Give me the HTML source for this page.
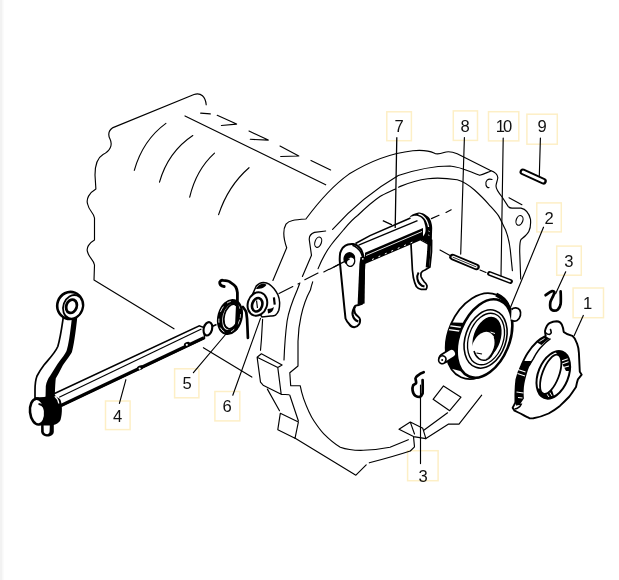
<!DOCTYPE html>
<html><head><meta charset="utf-8"><style>
html,body{margin:0;padding:0;background:#fff;width:619px;height:580px;overflow:hidden}
svg{display:block}
.t{font-family:"Liberation Sans",sans-serif;font-size:16.6px;fill:#111;text-anchor:middle}
.l{fill:none;stroke:#000;stroke-width:1.15;stroke-linecap:round;stroke-linejoin:round}
.m{fill:none;stroke:#000;stroke-width:1.8;stroke-linecap:round;stroke-linejoin:round}
.b{fill:none;stroke:#fdefc6;stroke-width:1.5}
</style></head><body>
<svg style="will-change:transform" width="619" height="580" viewBox="0 0 619 580">
<rect x="0" y="0" width="619" height="580" fill="#fff"/>
<rect x="0" y="0" width="2.5" height="580" fill="#f2f2f2"/>
<rect x="2.5" y="0" width="1" height="580" fill="#f7f7f7"/>

<g>
<rect class="b" x="386.8" y="111.8" width="24.6" height="28.9"/>
<rect class="b" x="453.3" y="110.9" width="24.2" height="29.5"/>
<rect class="b" x="488.5" y="111.7" width="30.3" height="29.2"/>
<rect class="b" x="526.9" y="114.2" width="30.4" height="30.0"/>
<rect class="b" x="536.8" y="202.9" width="24.5" height="29.0"/>
<rect class="b" x="556.7" y="246.1" width="24.6" height="29.1"/>
<rect class="b" x="573.1" y="288.0" width="30.4" height="29.7"/>
<rect class="b" x="174.6" y="368.8" width="24.3" height="29.0"/>
<rect class="b" x="214.9" y="391.5" width="24.9" height="29.4"/>
<rect class="b" x="105.5" y="401.0" width="24.6" height="28.6"/>
<rect class="b" x="407.6" y="450.7" width="30.5" height="30.0"/>
</g>
<!-- ===== transmission housing (left body) ===== -->
<g class="l">
<path d="M206.2,104.8 C205.5,97 201,92 194,94.5 L113,127.6 C108,131 108,135 110,139 C113,145 110,151 103,154.5 C97,158 95,165 95,175 L95.9,189 C89,193 86,199 87.6,204 C89,211 94,213 94.5,218 L94.5,240 C89,243 86,248 87.6,252 C89,258 94,260 94.5,265 L94,280 L174,328.8 M203.4,347.7 L251.8,377.1"/>
<path d="M185,115.9 L325.7,184.8"/>
<path d="M200.7,113.1 L210.3,113.9 M217.2,115.3 L236.6,124.1 L221.4,125.5 M249,131 L268.3,140.1 L250.3,139.3 M280,146 L298.8,156 L280.7,156.5 M311,160.4 L330.6,170"/>
<path d="M165.9,123.4 Q143,140 134.3,170.3 M192.8,135.5 Q168,152 159.5,182.2 M214.5,153.1 Q196,170 189.7,197.2 M249,167.7 Q228,186 218.6,214.6"/>
</g>

<!-- ===== bell housing flange ===== -->
<g class="l">
<!-- outer edge -->
<path d="M272.9,280.5 L286.7,247.8 C284,240 282.5,230 286,224.1 C289,220.5 294,219.8 305.9,219 C320,200 335,184 349,174.1 C370,161 392,153 412.8,150.7 C422,150 430,151 434,153 C437,155 440,154 444,152.5 C448,151 453,152 457.2,153.8 L490,170.2 C495,172 498,175 497.8,178 C497,182 496,184 496,186 C496,189 498,192 502.1,197 L508.1,206.4 C509,207.5 510,208.1 512,208.1 L521,208.1 C525,209 529,213 530.5,219.3 C531,225 530,229 528.8,231.4 C527,235 524,237 521,239.5 C519.5,242 519.7,248 519.7,252 L520.7,279"/>
<path d="M262.6,319.3 L261.4,340 L260.5,350.3"/>
<path d="M509,197.8 L521.9,204.7"/>
<!-- arc 2 (inner lug edge) -->
<path d="M332.6,229.3 C350,210 370,192 398.3,175.5 C415,170 430,166 450,166 C462,167 470,172 479.7,175.3 C483,174.5 487,172.5 490.9,171"/>
<path d="M325.7,231 L314.5,232.4 C310,234 309,237 309.3,240 L311.5,255.3 L302.4,276.4 M299.5,284 L297.2,290 C292,302 288.5,312 287.1,321 C285.5,333 284.5,347 284,359.9"/>
<!-- arc 3 -->
<path d="M318.1,268.6 C322,259 326,251.5 331.4,244.5 C334.5,240 338,236.5 343.4,230 C348,224.5 352,219.5 357.6,215.5 C365,208.5 372,202 380,196.6 C384,194 388,192.5 395.5,189 M398.5,187.2 L400.3,186.4 C420,178 435,176.5 457.2,179.7 C465,182 470,186 474.5,190 C480,195 485,200 488.3,203.8 C492,208 496,212 498.6,215.9 C501,220 503,225 505.5,229.7 C508,236 509.5,243 510.3,250 L512.4,270.7"/>
<path d="M312.7,281.9 C311.8,284.5 311,287.5 310.4,290 C306,298 303,307 301,316.4 C299,325 298.2,333 298,341.2 L298,366 L289.8,372.8 L290.7,385.7 L300.2,385.7 C301,390 302,394 303.6,398.6 C307,408 310,415 314,421 C318,427 320,430 323.8,433.8 C330,440 335,444 340.3,447.2 C348,450 355,450.5 363.1,450.3 C372,450 381,449 390,447.2 L408.3,439.7"/>
<!-- block -->
<path d="M257.1,357.2 L261.4,353.8 L282.1,365 L277.8,367.6 Z M257.1,357.2 L260.5,382.2 L263.1,385.2 L281.2,394.3 L289,394.8 M277.8,367.6 L281.2,394.3"/>
<path d="M267.4,389.1 L279.5,410.7 M289.8,395.2 L298.4,421"/>
<path d="M280.3,413.3 L298.4,421.9 L295,438.3 L277.8,429.7 Z"/>
<path d="M294.8,437.9 L355.9,475.2 L366.2,464.8 M369.3,462.8 C380,460 395,456 410.3,451 L414.5,446.9 L413.5,436.6 L399,429.3 L410.3,422.1 L422.8,428.3 L425.9,438.6 L413.5,436.6 M410.3,422.1 L414.5,434"/>
<path d="M423.8,430.3 L447.6,412.8 M425.9,438.6 L448.6,424.1 L459,424.1 L481.7,395.2"/>
<path d="M443.5,385.9 L461,397.2 L449.7,410.7 L433.1,399.3 Z"/>
<!-- holes -->
<ellipse cx="318.2" cy="242.2" rx="3.2" ry="5.3" transform="rotate(20 318.2 242.2)"/>
<ellipse cx="519.5" cy="220.4" rx="3.3" ry="5" transform="rotate(20 519.5 220.4)"/>
<path d="M492,179.5 C488,178 485,181 486,185 C486.5,187 488,188 489,187.5"/>
</g>

<!-- axis dash-dot lines -->
<g class="l">
<path d="M279,293.4 L292.8,286.6 M298,284 L300,283 M304.8,279.7 L318,273 M323.8,271.9 L329,269.3 M334,267 L348,259.5"/>
<path d="M431.4,218.6 L439,215.3 M446,212.4 L451.2,209.8"/>
<path d="M440,250 L451.4,256.2 M480,270 L486,272.5"/>
</g>

<!-- ===== clutch fork (7) ===== -->
<g>
<!-- tube -->
<path d="M355,242 L412,218.5 L426,229 L420,239 L365,264 Z" fill="#fff" stroke="none"/>
<!-- right arm -->
<path d="M410.9,242.2 L412.4,270 L413.4,277.8 C414.2,281.5 415.2,284.5 416.3,286.5 C417.8,288.5 419.5,289.3 421.1,289.4 L426,289.4 C426.8,288.3 427.2,287 426.9,285.5 C426.5,284 425.5,282.8 424,281.6 C422.8,280 421.7,278.5 421.1,276.8 C420.8,275.5 420.9,274 421.1,272.9 C421.8,271.5 423,270.5 425,270 L429.9,267.1 L431.5,251.6 L431.6,240 L426.4,241.4 L420.2,238.3 Z" fill="#fff" stroke="#000" stroke-width="1.7" stroke-linejoin="round"/>
<path d="M418.6,272.5 C417.4,274.5 417,277 417.4,279 C418,282 419.8,284.5 422,285.8 L424.5,286.5" stroke="#000" stroke-width="2" fill="none"/>
<path d="M429.6,236 L428.8,252 L427.4,267.5" stroke="#000" stroke-width="3.4" fill="none"/>
<!-- cap ring -->
<path d="M409.3,217.4 C411,215 413,213.5 418.6,212.4 C421,212.4 424,213 427.9,216.6 C429.5,218 430.5,219.5 431,221.3 C431.8,224 432.2,226 432.2,228 L431.6,246 L427,243 C425,241.5 423,240 420.2,238.3 C422,237 423,236.5 423.3,236 C425,234 425.6,232 425.6,229.8 C425.5,226 425,225 424.8,224.4 C424,221 423.5,220 422.5,219 C421,217 419.5,216.5 417.8,215.9 C415,215.5 412,216 409.3,217.4 Z" fill="#000"/>
<path d="M418.5,214.2 C422,215 424.5,217 426.5,220.5 C427.8,223 428.3,225 428.6,227" stroke="#fff" stroke-width="1.3" fill="none"/>
<path d="M428.5,231 L429.5,231.5 M428.3,235 L429.3,235.5" stroke="#fff" stroke-width="1"/>
<path d="M355.5,243.5 L370,235.6 L410.5,218" stroke="#000" stroke-width="1.6" fill="none"/>
<path d="M358.6,245.2 L417.5,220.6" stroke="#000" stroke-width="1.3" fill="none"/>
<path d="M365,252.7 L423,228.1 L423,239.2 L365,264 Z" fill="#000"/>
<path d="M366,255.5 L422,231.5" stroke="#fff" stroke-width="0.9"/>
<path d="M372,259.5 L416,240.5" stroke="#fff" stroke-width="1" stroke-dasharray="2 5"/>
<path d="M420.6,240 L430.7,245.4" stroke="#000" stroke-width="1.3" fill="none"/>
<!-- left arm -->
<path d="M339.8,261.3 C339.5,257 340,254.5 340.2,252.9 C341,250.5 342,249 342.8,247.7 C344.5,246 346,245 347.9,244.5 C350,244 351.5,244 353.1,244.1 C355,244.5 356.5,245 357.6,245.8 C359.5,247.5 360.8,249 361.5,250.3 C362.5,252.5 363,254.5 363.4,256.1 L364.3,264.6 L362,303.9 L359.1,304.9 C357.5,305 356,305.3 355.2,305.9 C354.3,306.8 354,307.8 354.2,308.8 C354.3,310.5 354.6,312.3 355.2,313.6 C356,315 357.2,315.8 358.1,316.5 C359.2,317.4 359.8,318.3 360,319.4 C360.2,321 359.9,323 359.1,324.3 C358,326 356.2,327 354.2,327.2 C352.3,327.2 350.6,326 349.4,324.3 C347.6,322.5 346.3,320.5 345.5,318.5 L344.5,308.8 Z" fill="#fff" stroke="#000" stroke-width="2" stroke-linejoin="round"/>
<polygon points="365.2,257 364.6,303.5 359.5,304.8 357.6,304.8 359.4,264 360.5,257" fill="#000"/>
<path d="M355.2,306.8 C353.2,309 352.3,312 352.7,315 C353.3,318 355.5,320.5 358.3,321.6" stroke="#000" stroke-width="2.2" fill="none"/>
<path d="M352.4,245.3 C354.5,246 355.8,246.9 357,247.9 C358.8,249.4 360,250.9 360.8,252.4 C361.6,254 362.2,255.8 362.6,257.4" stroke="#000" stroke-width="1.5" fill="none"/>
<circle cx="362.8" cy="258.8" r="0.9" fill="#fff"/>
<ellipse cx="349.3" cy="258.5" rx="5.8" ry="6.5" transform="rotate(20 349.3 258.5)" fill="#000"/>
<ellipse cx="350.6" cy="261.6" rx="4" ry="4.9" transform="rotate(20 350.6 261.6)" fill="#fff" stroke="#000" stroke-width="1.4"/>
<path d="M329.1,269.5 L349.6,258.9" stroke="#000" stroke-width="1.3" fill="none"/>
<path d="M396.8,137.2 L395.2,228 M382.8,220.7 L392,224.8" stroke="#000" stroke-width="1.3" fill="none"/>
</g>

<!-- ===== lever (4) ===== -->
<g>
<path d="M63.5,316 C62,326 60.5,338 57.8,346.5 C55,353 49,359 44,365 C41,369 39,372 37,376 C35.5,380 35,385 35,390 L35,398 L54,398 L54,394 C54.2,388 54.5,382 55,378 C58,373 60,369 62,365 C67,358 70,354 71.1,351.8 C73,345 74.5,335 76.5,317" fill="#fff" stroke="#000" stroke-width="1.7" stroke-linejoin="round"/>
<path d="M76.5,317 C74.5,335 73,345 71.1,351.8 C70,354 67,358 62,365 C60,369 58,373 55,378 C54.5,382 54.2,388 54,398 L45.5,398 L45.8,386 C46.5,382 48,378.5 50,376 C52.5,372 55,368 57.5,364 C62,358 65,354 66.5,351 C68.5,345 70,335 72,317 Z" fill="#000"/>
<ellipse cx="70.1" cy="305.4" rx="12.8" ry="13.6" transform="rotate(20 70.1 305.4)" fill="#fff" stroke="#000" stroke-width="2.6"/>
<ellipse cx="72.9" cy="306.8" rx="9.6" ry="12" transform="rotate(20 72.9 306.8)" fill="#fff" stroke="#000" stroke-width="1.8"/>
<ellipse cx="71.5" cy="306.3" rx="5.2" ry="6.8" transform="rotate(20 71.5 306.3)" fill="#fff" stroke="#000" stroke-width="2.8"/>
<!-- shaft -->
<path d="M53.5,394 L199.3,325.9 L204,327.5 L204.5,338.3 L61,406 Z" fill="#fff" stroke="#000" stroke-width="1.5"/>
<path d="M59.2,397.3 L201.4,329" fill="none" stroke="#000" stroke-width="1.25"/>
<path d="M61,405.5 L204,337.8" stroke="#000" stroke-width="3.2" fill="none"/>
<ellipse cx="140" cy="367.8" rx="3.2" ry="2.2" transform="rotate(-25 140 367.8)" fill="#000"/>
<circle cx="139.7" cy="368.6" r="1.1" fill="#fff"/>
<ellipse cx="187" cy="344.2" rx="3.2" ry="2.2" transform="rotate(-25 187 344.2)" fill="#000"/>
<circle cx="186.8" cy="344.8" r="1.1" fill="#fff"/>
<!-- boss -->
<path d="M42,397.5 C48,395.5 56,395 60,399 C62.5,403 62.5,414 60.5,420 C58,424.5 53,426 47,425.5 L40,425 C35,423 31,418 30,410 C30,403 35,398 42,397.5 Z" fill="#000"/>
<ellipse cx="37.6" cy="411.6" rx="7.6" ry="13" transform="rotate(-6 37.6 411.6)" fill="#fff" stroke="#000" stroke-width="2.6"/>
<path d="M38.5,403.8 C41,404.2 43,405.5 44.5,408" stroke="#000" stroke-width="1.8" fill="none"/>
<path d="M54.8,396.3 C57,398 58.3,400.5 58.8,403.5" stroke="#fff" stroke-width="1.3" fill="none"/>
<path d="M41.1,423 L41.1,432 C42,435.5 45,436.5 47.5,436.5 C50.5,436.5 53.8,435 53.8,431.5 L53.8,423 Z" fill="#000"/>
<path d="M43.6,425.5 L43.8,432 C44.5,433.5 46,434.2 47.2,434.2 C48.8,434 49.6,432.8 49.6,431 L49.8,425.5 Z" fill="#fff"/>
</g>

<!-- ===== ring, spring (5), bush (6) ===== -->
<g>
<ellipse cx="207.9" cy="328.8" rx="4.2" ry="6.8" transform="rotate(15 207.9 328.8)" fill="#fff" stroke="#000" stroke-width="2.1"/>
<path d="M212,326.5 L216.5,324.5" stroke="#000" stroke-width="1.4"/>
<!-- spring coil -->
<ellipse cx="230" cy="317" rx="10" ry="15.8" transform="rotate(15 230 317)" fill="none" stroke="#000" stroke-width="5.2"/>
<ellipse cx="229.6" cy="317" rx="10.3" ry="15.9" transform="rotate(15 229.6 317)" fill="none" stroke="#fff" stroke-width="0.8" stroke-dasharray="6 5 4 7"/>
<ellipse cx="231.5" cy="316.5" rx="7.3" ry="12.6" transform="rotate(15 231.5 316.5)" fill="none" stroke="#000" stroke-width="1.8"/>
<path d="M224.2,286.5 C221,286 219.5,284 219.7,282.1 C220.5,280.5 222,280 223,280.4 C226,280.5 229,281 230.8,282.6 C233,284 235,285.5 235.8,287 C236.8,289 237.3,291 237.4,292.6 L237.4,304.7 L236.3,329" fill="none" stroke="#000" stroke-width="2.8" stroke-linecap="round"/>
<path d="M242.9,307 C244.5,309 246,311 246.3,312.5 C247,317 247.4,322 247.4,325.7 L247.9,337.9" fill="none" stroke="#000" stroke-width="2.7" stroke-linecap="round"/>
<!-- bush -->
<path d="M256.2,286.1 C258.5,283.5 261,282.4 263.4,282.4 C265.5,282.5 267.5,283 269.1,284.1 C271,285.5 272.5,287 273.9,288.5 C275.5,290.5 277,293 278,295 C279,297.5 279.5,300 279.6,302.2 C279.7,305 279.4,308 278.8,310.3 C278,312.5 277,314 275.5,315.2 C274,316 272,316.2 270.7,316 L262,317 L250,300 Z" fill="#fff" stroke="#000" stroke-width="1.5"/>
<path d="M256,289 C257,286.5 259,284.5 262,283.8 C264,283.5 265.5,283.8 266.5,284.8 C265.5,286.5 263.5,288 261,288.6 C259,289 257.5,289.2 256,289 Z" fill="#000"/>
<path d="M273.9,297.4 L274.7,304.7" stroke="#000" stroke-width="2.2"/>
<path d="M267.5,309 C270,309 272.5,308 273.9,307 C273.5,310.5 271.5,313 268,313.5 Z" fill="#000"/>
<ellipse cx="257.4" cy="304" rx="9.6" ry="12" transform="rotate(18 257.4 304)" fill="#fff" stroke="#000" stroke-width="2"/>
<ellipse cx="257.2" cy="304.8" rx="5" ry="6.9" transform="rotate(18 257.2 304.8)" fill="#fff" stroke="#000" stroke-width="2.6"/>
<path d="M256.5,300.5 L257.5,308" stroke="#000" stroke-width="1.2"/>
</g>

<!-- ===== pins 8, 10, 9 ===== -->
<g stroke-linecap="round">
<path d="M452.5,257 L476.5,267" stroke="#000" stroke-width="6.5"/>
<path d="M453,257.2 L476,266.8" stroke="#fff" stroke-width="3"/>
<path d="M453,257.2 L476,266.8" stroke="#000" stroke-width="0.8"/>
<path d="M489.5,273.5 L510.5,281.5" stroke="#000" stroke-width="4.8"/>
<path d="M490,273.7 L510,281.3" stroke="#fff" stroke-width="1.8"/>
<path d="M522.8,171.8 L543.5,181.3" stroke="#000" stroke-width="6.5"/>
<path d="M523.2,172 L543,181" stroke="#fff" stroke-width="3"/>
</g>

<!-- ===== bearing (2) ===== -->
<defs>
<clipPath id="bA"><ellipse cx="478.9" cy="336.1" rx="30.4" ry="44.9" transform="rotate(23.5 478.9 336.1)"/></clipPath>
<clipPath id="bTop"><polygon points="478,280 520,280 520,312 500,306 478,296"/></clipPath>
</defs>
<g>
<ellipse cx="478.9" cy="336.1" rx="30.4" ry="44.9" transform="rotate(23.5 478.9 336.1)" fill="#fff" stroke="#000" stroke-width="1.8"/>
<g clip-path="url(#bA)">
<polygon points="440,322 470,323 470,368 440,368" fill="#000"/>
<path d="M440,324.5 L470,328.5 M440,328.5 L470,332.5" stroke="#fff" stroke-width="1.4"/>
<path d="M440,364 L470,372" stroke="#000" stroke-width="3"/>
</g>
<ellipse cx="478.9" cy="336.1" rx="30.4" ry="44.9" transform="rotate(23.5 478.9 336.1)" fill="none" stroke="#000" stroke-width="4" clip-path="url(#bTop)"/>
<ellipse cx="484.5" cy="338.5" rx="25" ry="41" transform="rotate(22 484.5 338.5)" fill="#fff" stroke="#000" stroke-width="2.6"/>
<ellipse cx="485.6" cy="339" rx="20.3" ry="30" transform="rotate(19 485.6 339)" fill="none" stroke="#000" stroke-width="1.6"/>
<ellipse cx="486" cy="339" rx="17.3" ry="26.5" transform="rotate(19 486 339)" fill="none" stroke="#000" stroke-width="1.3"/>
<ellipse cx="487" cy="338" rx="13.5" ry="22" transform="rotate(19 487 338)" fill="#000"/>
<ellipse cx="483" cy="346.5" rx="10.5" ry="15.5" transform="rotate(25 483 346.5)" fill="#fff"/>
<path d="M474,351 C476,358 481,361.5 486,360 C490,358.5 493,354 494.5,349" stroke="#000" stroke-width="1.5" fill="none"/>
<path d="M476.5,353 L482,354" stroke="#000" stroke-width="1.2" fill="none"/>
<path d="M490.5,332 L495,333.5 M489.5,335.5 L494,337" stroke="#fff" stroke-width="1"/>
<!-- left pin -->
<path d="M443.5,358.5 L451.5,353.5" stroke="#000" stroke-width="10.5" stroke-linecap="round" fill="none"/>
<path d="M443.5,358.5 L451.5,353.5" stroke="#fff" stroke-width="7" stroke-linecap="round" fill="none"/>
<path d="M447.5,349 C449.5,347 452.5,346.5 454.5,348" stroke="#000" stroke-width="1.5" fill="none"/>
<ellipse cx="442.3" cy="359.7" rx="3.6" ry="4" transform="rotate(20 442.3 359.7)" fill="#fff" stroke="#000" stroke-width="1.7"/>
<circle cx="442.2" cy="360" r="1" fill="#000"/>
<!-- right pin -->
<path d="M511.5,309.5 C514,307 518,307.5 519.8,310 C521.5,313 520.5,318.5 517,320.5 C515,321.5 512.5,321 511,320" fill="#fff" stroke="#000" stroke-width="1.8"/>
<path class="l" d="M543.5,227.2 L509,311"/>
</g>

<!-- ===== plate (1) ===== -->
<g>
<path d="M549.5,323.1 C552,321.8 554,321.3 556.7,321.3 C559,321.5 561,323 561.8,324.5 C563,327 563.5,330 563.7,332 C566,334 569,335 572.3,335.8 C574.5,337.5 576,340 577,343.4 C578,346 578.7,349 578.9,352.9 L579.8,371.8 L581.7,374.7 L577.9,379.4 C577,382 576.5,384.5 576,387 C574,390 572,393 569.4,396.5 C566,400 563,403 559.9,405.9 C556,409 552,411.5 548.6,413.5 C543,416 538,417.5 533.4,418.3 C531,418.5 530,418.4 529.6,418.3 C527,417 525.5,416.5 523.9,415.4 C520,413 517,412 514.5,410.7 L512.6,407.8 C514,405 515,403.5 515.4,402.2 C515.5,399 515.4,397 515.4,394.6 C515.5,389 515.8,384 516.4,379.4 C517.5,375 519,370.5 521.1,366.2 C523,361.5 525,357 527.7,352.9 C530.5,348.5 533.5,345 537.2,341.5 C540,339 542.5,337.3 545.7,335.8 C545,333 545,331 545,330.9 C546,327 548,324 549.5,323.1 Z" fill="#fff" stroke="#000" stroke-width="1.9" stroke-linejoin="round"/>
<defs><clipPath id="pl"><rect x="500" y="361" width="40" height="60"/></clipPath></defs>
<path clip-path="url(#pl)" d="M545.7,335.8 C542.5,337.3 540,339 537.2,341.5 C533.5,345 530.5,348.5 527.7,352.9 C525,357 523,361.5 521.1,366.2 C519,370.5 517.5,375 516.4,379.4 C515.8,384 515.5,389 515.4,394.6 C515.4,397 515.5,399 515.4,402.2 L516.4,405.9 L520.2,404 L523.9,398.4 C523.5,395 523.6,391 523.9,387 C524.5,382 525.5,378 526.8,373.7 C528.5,368 530.5,363 533.4,358.6 C536,353.5 539,349 542.9,345.3 C545,343 548,340.5 550.5,338.7 Z" fill="#000"/>
<path d="M550.5,338.7 C548,340.5 545,343 542.9,345.3 C539,349 536,353.5 533.4,358.6 C531.5,361.5 530,364 529,366" stroke="#000" stroke-width="1.5" fill="none"/>
<path d="M545.5,336 C542,338 539,340.5 537,342.5 L541.5,345 C544,342.5 547,340 549.5,338.5 Z" fill="#000"/>
<path d="M539.5,341.5 L544.5,338.5" stroke="#fff" stroke-width="0.9"/>
<path d="M518,369.5 L525.5,372 M517.5,373.5 L525,376 M516.5,392 L523.5,393 M518,397.5 L522.5,398" stroke="#fff" stroke-width="1.1"/>
<path d="M545.7,332.7 C547,334 548,334.5 549.3,334.5 C551,334 551.5,332.5 551.1,331.8 C551,330.5 550.5,329.5 550.2,329" stroke="#000" stroke-width="1.6" fill="none"/>
<path d="M515.9,405 C518,404.5 520,404 521.3,404.1 C520,407 518,408.5 514.5,409" stroke="#000" stroke-width="1.4" fill="#fff"/>
<defs><clipPath id="ho"><ellipse cx="553.3" cy="374.8" rx="15.1" ry="24.9" transform="rotate(21.8 553.3 374.8)"/></clipPath></defs>
<ellipse cx="553.3" cy="374.8" rx="15.1" ry="24.9" transform="rotate(21.8 553.3 374.8)" fill="#fff"/>
<g clip-path="url(#ho)">
<polygon points="552,345 575,345 575,371 566,371 558,356" fill="#000"/>
<polygon points="534,388 552,390 556,402 534,402" fill="#000"/>
</g>
<path d="M561.5,361 L568.5,358.5 M562,364 L569,361.5 M561.5,368 L569,366" stroke="#fff" stroke-width="1.1"/>
<path d="M545,391.5 L549,397 M548.5,390.5 L552,396" stroke="#fff" stroke-width="1"/>
<ellipse cx="553.3" cy="374.8" rx="15.1" ry="24.9" transform="rotate(21.8 553.3 374.8)" fill="none" stroke="#000" stroke-width="2"/>
<ellipse cx="550.7" cy="374.3" rx="8.3" ry="20.7" transform="rotate(20.7 550.7 374.3)" fill="#fff" stroke="#000" stroke-width="1.8"/>
<path d="M583.5,315 L574,335.9" stroke="#000" stroke-width="1.15" fill="none"/>
</g>

<!-- ===== clips (3) ===== -->
<g fill="none" stroke="#000" stroke-width="2.7" stroke-linecap="round" stroke-linejoin="round">
<path d="M545.6,295.2 C548,293.5 550,291.5 552.1,291.1 C553.8,291 554.6,291.8 554.4,292.5 C554,294.5 553.3,295.5 552.6,297.2 C551.5,299.5 550.5,301 550.3,302.5 C550,304.5 550,306.5 550.3,307.8 C551,309.5 552.5,310.7 553.8,310.7 C555.5,310.8 557,310.3 557.9,309.5 C559.5,308 560.3,306 560.6,304.3 C561,301 560.8,299 560.8,296.6 C560.8,294.5 560.7,293 560.6,291.4"/>
<path d="M423.7,372.2 C421.5,373 419.5,374 417.9,375.4 C416.5,376.5 415.5,377.5 415.5,378.3 C415.5,380 416.5,382 416.1,383 C415.5,384 414,384.5 413.2,385.3 C412.5,387 412.3,389 412.6,390.6 C413,393 414,395 415.5,395.9 C417,396.8 418.5,397 419.6,397 C421,396.5 422,395 422.6,393.5 C422.8,389 422.7,384 422.6,380.1"/>
</g>

<!-- leaders -->
<g class="l">
<path d="M464.4,137.6 L460.7,254.1"/>
<path d="M503.2,138 L501,275.9"/>
<path d="M540.4,138 L539.3,176.6"/>
<path d="M565.7,271.8 L555.6,293.7"/>
<path d="M193.4,372.7 L226,334"/>
<path d="M232.8,395.2 L260.5,318.4"/>
<path d="M119.4,403.4 L125.9,379.7"/>
<path d="M420.5,385 L420.5,463.6"/>
</g>

<!-- ===== labels ===== -->
<g>
<text class="t" x="399.2" y="131.9">7</text>
<text class="t" x="465" y="131.5">8</text>
<text class="t" x="502.9" y="132.3" letter-spacing="-2">10</text>
<text class="t" x="542.1" y="132.3">9</text>
<text class="t" x="549" y="223.5">2</text>
<text class="t" x="568.8" y="266.9">3</text>
<text class="t" x="587.5" y="309.2">1</text>
<text class="t" x="187" y="389">5</text>
<text class="t" x="227" y="411.8">6</text>
<text class="t" x="117.6" y="422.2">4</text>
<text class="t" x="423" y="482">3</text>
</g>
</svg>
</body></html>
